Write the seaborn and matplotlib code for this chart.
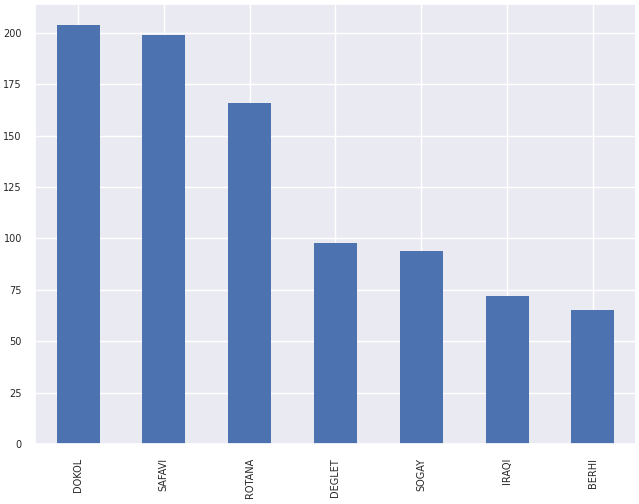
import matplotlib
matplotlib.use("Agg")
import matplotlib.pyplot as plt
import seaborn as sns
import pandas as pd

varieties = ["DOKOL", "SAFAVI", "ROTANA", "DEGLET", "SOGAY", "IRAQI", "BERHI"]
counts = [204, 199, 166, 98, 94, 72, 65]

sns.set_theme(style="darkgrid")

df = pd.DataFrame({"Class": varieties, "Count": counts})

fig, ax = plt.subplots(figsize=(6.39, 5.04), dpi=100)
fig.subplots_adjust(left=0.055, right=0.995, top=0.992, bottom=0.119)

sns.barplot(data=df, x="Class", y="Count", color="#4c72b0", saturation=1,
            width=0.5, linewidth=0, ax=ax)

ax.xaxis.grid(True)
ax.set_xlim(-0.5, len(varieties) - 0.5)
ax.set_ylim(0, 214)
ax.set_yticks(range(0, 201, 25))
ax.set_xlabel("")
ax.set_ylabel("")
ax.tick_params(axis="x", labelrotation=90, labelsize=7, pad=4)
ax.tick_params(axis="y", labelsize=7)

fig.savefig("out.png", dpi=100)
